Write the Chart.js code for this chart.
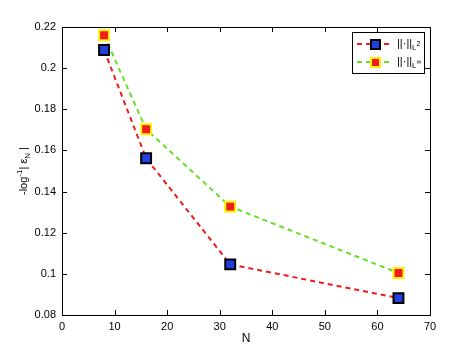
<!DOCTYPE html>
<html><head><meta charset="utf-8">
<script src="https://cdn.jsdelivr.net/npm/chart.js@4"></script>
<style>html,body{margin:0;padding:0;background:#fff}#wrap{width:474px;height:356px}</style>
</head><body><div id="wrap"><canvas id="c" width="474" height="356"></canvas></div>
<script>
const nValues = [8, 16, 32, 64];
const errL2 = [0.2088, 0.1562, 0.1046, 0.0882];
const errLinf = [0.2160, 0.1703, 0.1327, 0.1004];
const xTicks = [0, 10, 20, 30, 40, 50, 60, 70];
const yTicks = [0.08, 0.10, 0.12, 0.14, 0.16, 0.18, 0.20, 0.22];
const seriesNames = ['L2', 'Linf'];

const FONT = 'Liberation Sans, Arial, Helvetica, sans-serif';
const RED = '#ee1c1c', GREEN = '#66e022', BLUE = '#2040e0', YELLOW = '#fff200';

function fmt(v){ return String(Number(v.toFixed(2))); }

const framePlugin = {
  id: 'frame',
  afterDraw(chart){
    const ctx = chart.ctx, a = chart.chartArea;
    const xs = chart.scales.x, ys = chart.scales.y;
    ctx.save();
    ctx.strokeStyle = '#000'; ctx.lineWidth = 1;
    ctx.strokeRect(a.left + 0.5, a.top + 0.5, a.right - a.left, a.bottom - a.top);
    const tl = 5;
    ctx.beginPath();
    xTicks.forEach(v => {
      const p = Math.round(xs.getPixelForValue(v)) + 0.5;
      ctx.moveTo(p, a.bottom); ctx.lineTo(p, a.bottom - tl);
      ctx.moveTo(p, a.top); ctx.lineTo(p, a.top + tl);
    });
    yTicks.forEach(v => {
      const p = Math.round(ys.getPixelForValue(v)) + 0.5;
      ctx.moveTo(a.left, p); ctx.lineTo(a.left + tl, p);
      ctx.moveTo(a.right, p); ctx.lineTo(a.right - tl, p);
    });
    ctx.stroke();

    // x-axis title
    ctx.fillStyle = '#000';
    ctx.font = '12px ' + FONT;
    ctx.textAlign = 'center'; ctx.textBaseline = 'middle';
    ctx.fillText('N', (a.left + a.right) / 2, 339);
    ctx.textAlign = 'left';

    // y-axis title with sub/superscripts
    ctx.save();
    ctx.translate(27, (a.top + a.bottom) / 2);
    ctx.rotate(-Math.PI / 2);
    ctx.fillStyle = '#000';
    ctx.textBaseline = 'alphabetic';
    const parts = [
      {t: '-log', s: 11, dy: 0},
      {t: '-1', s: 8, dy: -5},
      {t: '| \u03B5', s: 11, dy: 0},
      {t: 'N', s: 8, dy: 3},
      {t: ' |', s: 11, dy: 0}
    ];
    let total = 0;
    parts.forEach(p => { ctx.font = p.s + 'px ' + FONT; total += ctx.measureText(p.t).width; });
    let x = -total / 2;
    parts.forEach(p => { ctx.font = p.s + 'px ' + FONT; ctx.fillText(p.t, x, p.dy); x += ctx.measureText(p.t).width; });
    ctx.restore();

    // legend
    const lx = 352, ly = 32, lw = 72, lh = 41;
    ctx.fillStyle = '#fff';
    ctx.fillRect(lx, ly, lw, lh);
    ctx.strokeStyle = '#000'; ctx.lineWidth = 1;
    ctx.strokeRect(lx + 0.5, ly + 0.5, lw, lh);
    const rows = [
      {y: 44, line: RED, face: BLUE, edge: '#000', sup: '2'},
      {y: 62, line: GREEN, face: RED, edge: YELLOW, sup: '\u221E'}
    ];
    rows.forEach(r => {
      ctx.strokeStyle = r.line; ctx.lineWidth = 2; ctx.setLineDash([5, 4]);
      ctx.beginPath(); ctx.moveTo(357, r.y); ctx.lineTo(393, r.y); ctx.stroke();
      ctx.setLineDash([]);
      ctx.fillStyle = r.face; ctx.fillRect(371, r.y - 4, 9, 9);
      ctx.strokeStyle = r.edge; ctx.lineWidth = 2; ctx.strokeRect(371, r.y - 4, 9, 9);
      ctx.fillStyle = '#000';
      ctx.textBaseline = 'middle';
      ctx.font = '11px ' + FONT;
      let tx = 397;
      ctx.fillText('||\u00B7||', tx, r.y); tx += ctx.measureText('||\u00B7||').width;
      ctx.font = '8px ' + FONT;
      ctx.fillText('L', tx, r.y + 4); tx += ctx.measureText('L').width;
      ctx.font = '7px ' + FONT;
      ctx.fillText(r.sup, tx, r.y);
    });
    ctx.restore();
  }
};

new Chart(document.getElementById('c'), {
  type: 'line',
  data: {
    datasets: [
      {
        label: seriesNames[0],
        data: nValues.map((n, i) => ({x: n, y: errL2[i]})),
        borderColor: RED, borderWidth: 2, borderDash: [5, 4],
        pointStyle: 'rect', pointRadius: 7, pointHoverRadius: 7,
        pointBackgroundColor: BLUE, pointBorderColor: '#000', pointBorderWidth: 2,
        tension: 0, fill: false
      },
      {
        label: seriesNames[1],
        data: nValues.map((n, i) => ({x: n, y: errLinf[i]})),
        borderColor: GREEN, borderWidth: 2, borderDash: [5, 4],
        pointStyle: 'rect', pointRadius: 7, pointHoverRadius: 7,
        pointBackgroundColor: RED, pointBorderColor: YELLOW, pointBorderWidth: 2,
        tension: 0, fill: false
      }
    ]
  },
  options: {
    responsive: false, animation: false,
    layout: {padding: {top: 27, right: 44, left: 0, bottom: 0}},
    plugins: {legend: {display: false}, tooltip: {enabled: false}},
    scales: {
      x: {
        type: 'linear', min: 0, max: 70,
        afterFit(s){ s.height = 41; },
        afterBuildTicks(s){ s.ticks = xTicks.map(v => ({value: v})); },
        grid: {display: false, drawTicks: false},
        border: {display: false},
        ticks: {color: '#000', font: {family: FONT, size: 11}, padding: 5, maxRotation: 0, callback: v => String(v)}
      },
      y: {
        type: 'linear', min: 0.08, max: 0.22,
        afterFit(s){ s.width = 62; },
        afterBuildTicks(s){ s.ticks = yTicks.map(v => ({value: v})); },
        grid: {display: false, drawTicks: false},
        border: {display: false},
        ticks: {color: '#000', font: {family: FONT, size: 11}, padding: 6, callback: v => fmt(v)}
      }
    }
  },
  plugins: [framePlugin]
});
</script></body></html>
